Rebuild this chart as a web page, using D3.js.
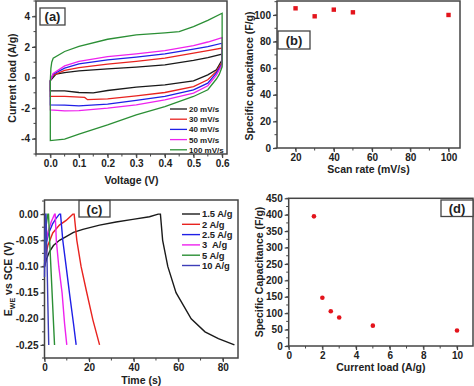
<!DOCTYPE html>
<html><head><meta charset="utf-8">
<script src="https://cdn.jsdelivr.net/npm/d3@7"></script>
<style>
body{margin:0;background:#fff;}
svg{display:block;font-family:"Liberation Sans",Arial,sans-serif;font-weight:bold;}
</style></head><body>
<svg id="c" width="474" height="386"></svg>
<script>
// ---------- DATA ----------
// (a) cyclic voltammetry: [voltage V, current A/g]
const cvLabels = ["20 mV/s","30 mV/s","40 mV/s","50 mV/s","100 mV/s"];
const cvColors = ["#1a1a1a","#e8231f","#1f1fe6","#ee22ee","#2b8f35"];
const cv20 = [[0,-0.2],[0.005,-0.1],[0.02,0.22],[0.05,0.32],[0.1,0.43],[0.2,0.57],[0.3,0.68],[0.4,0.83],[0.5,1.12],[0.55,1.3],[0.6,1.53],[0.6,1.15],[0.58,0.5],[0.55,0.17],[0.5,-0.22],[0.4,-0.48],[0.3,-0.63],[0.2,-0.85],[0.15,-1.0],[0.1,-0.98],[0.05,-0.88],[0,-0.87],[0,-0.2]];
const cv30 = [[0,-0.2],[0.01,0.15],[0.05,0.46],[0.1,0.65],[0.2,0.87],[0.3,1.05],[0.4,1.26],[0.5,1.59],[0.55,1.75],[0.6,1.92],[0.6,1.0],[0.58,0.4],[0.55,-0.15],[0.5,-0.59],[0.4,-0.98],[0.3,-1.2],[0.2,-1.4],[0.13,-1.45],[0.12,-1.3],[0.05,-1.24],[0,-1.24],[0,-0.2]];
const cv40 = [[0,-0.2],[0.01,0.22],[0.05,0.61],[0.1,0.89],[0.2,1.15],[0.3,1.33],[0.4,1.55],[0.5,1.85],[0.55,2.02],[0.6,2.24],[0.6,0.9],[0.58,0.3],[0.55,-0.37],[0.5,-0.81],[0.4,-1.24],[0.3,-1.5],[0.2,-1.74],[0.1,-1.85],[0.05,-1.81],[0,-1.79],[0,-0.2]];
const cv50 = [[0,-0.2],[0.01,0.26],[0.05,0.76],[0.1,1.05],[0.2,1.37],[0.3,1.55],[0.4,1.76],[0.5,2.09],[0.55,2.32],[0.6,2.61],[0.6,0.85],[0.58,0.15],[0.55,-0.54],[0.5,-1.02],[0.4,-1.46],[0.3,-1.79],[0.2,-2.0],[0.1,-2.16],[0.05,-2.18],[0,-2.11],[0,-0.2]];
const cv100 = [[0,-0.2],[0.002,0.6],[0.005,1.0],[0.01,1.26],[0.05,1.7],[0.1,2.03],[0.2,2.5],[0.3,2.79],[0.4,2.92],[0.45,3.0],[0.5,3.33],[0.55,3.73],[0.6,4.2],[0.6,0.7],[0.59,0.2],[0.58,-0.1],[0.55,-0.8],[0.5,-1.24],[0.4,-1.9],[0.3,-2.44],[0.2,-3.1],[0.1,-3.7],[0.05,-4.03],[0,-4.12],[0,-0.2]];
const cvTicksX = [0,0.1,0.2,0.3,0.4,0.5,0.6];
const cvTicksY = [-4,-2,0,2,4];

// (b) specific capacitance vs scan rate
const scanRates = [20,30,40,50,100];
const capScan = [105,99,104,102,100];
const scanTicksX = [20,40,60,80,100];
const scanTicksY = [0,20,40,60,80,100];

// (c) galvanostatic charge/discharge: [time s, E V]
const gcdLabels = ["1.5 A/g","2 A/g","2.5 A/g","3  A/g","5 A/g","10 A/g"];
const gcdColors = ["#1a1a1a","#e8231f","#1f1fe6","#ee22ee","#2b8f35","#3d3db8"];
const gcd15 = [[0,-0.1],[1,-0.085],[2.2,-0.072],[4,-0.06],[6.7,-0.05],[9.7,-0.043],[13,-0.035],[17.2,-0.029],[24.7,-0.021],[32.1,-0.015],[39.6,-0.01],[47.1,-0.005],[51,0],[52,0],[53,-0.05],[55.3,-0.1],[59,-0.15],[65.8,-0.2],[72,-0.225],[78,-0.238],[85.2,-0.25]];
const gcd2 = [[0,-0.09],[1.5,-0.06],[3.7,-0.036],[6.7,-0.021],[9.7,-0.012],[12.7,0],[13.3,0],[14.5,-0.05],[16.4,-0.1],[18.7,-0.145],[21.7,-0.202],[24.7,-0.25]];
const gcd25 = [[0,-0.1],[0.7,-0.056],[2,-0.035],[3.7,-0.018],[5.2,-0.008],[6.7,0],[7.2,0],[8.2,-0.05],[9.7,-0.1],[11.2,-0.151],[13,-0.209],[14.2,-0.25]];
const gcd3 = [[0,-0.1],[0.5,-0.06],[1.5,-0.035],[3,-0.015],[4.5,0],[4.8,0],[5.3,-0.05],[6.4,-0.1],[7.9,-0.151],[9,-0.209],[10,-0.25]];
const gcd5 = [[0,-0.1],[0.3,-0.05],[0.8,-0.02],[1.5,0],[1.8,0],[2.3,-0.05],[3.4,-0.15],[4.5,-0.25]];
const gcd10 = [[0,-0.12],[0.2,-0.05],[0.5,0],[0.7,0],[1.1,-0.08],[1.5,-0.17],[1.9,-0.25]];
const gcdTicksX = [0,20,40,60,80];
const gcdTicksY = [-0.25,-0.2,-0.15,-0.1,-0.05,0];

// (d) specific capacitance vs current load
const currentLoads = [1.5,2,2.5,3,5,10];
const capLoad = [395,147,106,87,62,47];
const loadTicksX = [0,2,4,6,8,10];
const loadTicksY = [0,50,100,150,200,250,300,350,400,450];

// ---------- DRAW ----------
const svg = d3.select("#c");
const AX = "#444", TXT = "#222";

function panel(o){
  const g = svg.append("g");
  const x = d3.scaleLinear().domain(o.xd).range([o.l,o.r]);
  const y = d3.scaleLinear().domain(o.yd).range([o.b,o.t]);
  const xs = Math.ceil(o.xd[0]/o.xminor - 1e-9)*o.xminor;
  const my = d3.range(Math.ceil(o.yd[0]/o.yminor - 1e-9)*o.yminor, o.yd[1]+1e-9, o.yminor);
  g.append("g").selectAll("line").data(d3.range(xs, o.xd[1]+1e-9, o.xminor)).join("line")
    .attr("x1",d=>x(d)).attr("x2",d=>x(d)).attr("y1",o.b).attr("y2",o.b+2.5)
    .attr("stroke",AX).attr("stroke-width",1);
  g.append("g").selectAll("line").data(my).join("line")
    .attr("y1",d=>y(d)).attr("y2",d=>y(d)).attr("x1",o.l).attr("x2",o.l-2.5)
    .attr("stroke",AX).attr("stroke-width",1);
  const ax = g.append("g").attr("transform",`translate(0,${o.b})`)
    .call(d3.axisBottom(x).tickValues(o.xt).tickSize(4).tickPadding(2).tickFormat(o.xf));
  const ay = g.append("g").attr("transform",`translate(${o.l},0)`)
    .call(d3.axisLeft(y).tickValues(o.yt).tickSize(4).tickPadding(2).tickFormat(o.yf));
  [ax,ay].forEach(a=>{
    a.select(".domain").remove();
    a.selectAll(".tick line").attr("stroke",AX).attr("stroke-width",1.2);
    a.selectAll("text").attr("fill",TXT).style("font-size","10px").style("font-weight","bold")
      .style("font-family","Liberation Sans, Arial, sans-serif");
  });
  g.append("rect").attr("x",o.l).attr("y",o.t).attr("width",o.r-o.l).attr("height",o.b-o.t)
    .attr("fill","none").attr("stroke",AX).attr("stroke-width",1.5);
  g.append("text").attr("x",(o.l+o.r)/2).attr("y",o.xly).attr("text-anchor","middle")
    .attr("fill",TXT).style("font-size","10.5px").text(o.xl);
  return {g,x,y};
}

// (a)
const A = panel({l:36,r:227,t:1,b:154,xd:[-0.05,0.617],yd:[-5,5],xt:cvTicksX,yt:cvTicksY,
  xminor:0.05,yminor:1,xf:d3.format(".1f"),yf:d=>String(d),xl:"Voltage (V)",xly:184});
A.g.append("text").attr("transform","translate(16,78) rotate(-90)").attr("text-anchor","middle")
  .attr("fill",TXT).style("font-size","10.5px").text("Current load (A/g)");
const lineA = d3.line().x(d=>A.x(d[0])).y(d=>A.y(d[1]));
[cv20,cv30,cv40,cv50,cv100].forEach((s,i)=>{
  A.g.append("path").attr("d",lineA(s)).attr("fill","none").attr("stroke",cvColors[i]).attr("stroke-width",1.3);
});
cvLabels.forEach((t,i)=>{
  const yy = 109 + i*10.2;
  A.g.append("line").attr("x1",170).attr("x2",187).attr("y1",yy).attr("y2",yy).attr("stroke",cvColors[i]).attr("stroke-width",1.3);
  A.g.append("text").attr("x",189).attr("y",yy+3).attr("fill",TXT).style("font-size","8px").text(t);
});
A.g.append("rect").attr("x",40).attr("y",8).attr("width",25).attr("height",17).attr("fill","#fff").attr("stroke",AX).attr("stroke-width",1.3);
A.g.append("text").attr("x",52.5).attr("y",21).attr("text-anchor","middle").attr("fill",TXT).style("font-size","13px").text("(a)");

// (b)
const B = panel({l:277,r:460,t:1,b:148,xd:[10.3,106],yd:[0,110.5],xt:scanTicksX,yt:scanTicksY,
  xminor:10,yminor:10,xf:d=>String(d),yf:d=>String(d),xl:"Scan rate (mV/s)",xly:173});
B.g.append("text").attr("transform","translate(253,76) rotate(-90)").attr("text-anchor","middle")
  .attr("fill",TXT).style("font-size","10.5px").text("Specific capacitance (F/g)");
B.g.selectAll("rect.pt").data(scanRates).join("rect").attr("class","pt")
  .attr("x",(d)=>B.x(d)-2.2).attr("y",(d,i)=>B.y(capScan[i])-2.2).attr("width",4.4).attr("height",4.4)
  .attr("fill","#e3141c");
B.g.append("rect").attr("x",278).attr("y",31).attr("width",32).attr("height",18).attr("fill","#fff").attr("stroke",AX).attr("stroke-width",1.3);
B.g.append("text").attr("x",294).attr("y",45).attr("text-anchor","middle").attr("fill",TXT).style("font-size","13px").text("(b)");

// (c)
const C = panel({l:44.5,r:238,t:200,b:358,xd:[0,86.8],yd:[-0.275,0.027],xt:gcdTicksX,yt:gcdTicksY,
  xminor:10,yminor:0.025,xf:d=>String(d),yf:d=>d3.format(".2f")(d).replace("\u2212","-"),xl:"Time (s)",xly:384});
const yl = C.g.append("text").attr("transform","translate(12,279) rotate(-90)").attr("text-anchor","middle")
  .attr("fill",TXT).style("font-size","10.5px");
yl.append("tspan").text("E");
yl.append("tspan").attr("dy",3).style("font-size","7px").text("WE");
yl.append("tspan").attr("dy",-3).text(" vs SCE (V)");
const lineC = d3.line().x(d=>C.x(d[0])).y(d=>C.y(d[1]));
[gcd15,gcd2,gcd25,gcd3,gcd5,gcd10].forEach((s,i)=>{
  C.g.append("path").attr("d",lineC(s)).attr("fill","none").attr("stroke",gcdColors[i]).attr("stroke-width",1.4);
});
gcdLabels.forEach((t,i)=>{
  const yy = 214 + i*10.3;
  C.g.append("line").attr("x1",182).attr("x2",200).attr("y1",yy).attr("y2",yy).attr("stroke",gcdColors[i]).attr("stroke-width",1.4);
  C.g.append("text").attr("x",202).attr("y",yy+3.3).attr("fill",TXT).style("font-size","9.4px").attr("xml:space","preserve").style("white-space","pre").text(t);
});
C.g.append("rect").attr("x",79).attr("y",200.5).attr("width",31).attr("height",16.5).attr("fill","#fff").attr("stroke",AX).attr("stroke-width",1.3);
C.g.append("text").attr("x",94.5).attr("y",213.5).attr("text-anchor","middle").attr("fill",TXT).style("font-size","13px").text("(c)");

// (d)
const D = panel({l:288.7,r:473,t:198.3,b:346,xd:[0,10.95],yd:[0,450],xt:loadTicksX,yt:loadTicksY,
  xminor:1,yminor:25,xf:d=>String(d),yf:d=>String(d),xl:"Current load (A/g)",xly:371});
D.g.append("text").attr("transform","translate(263,272) rotate(-90)").attr("text-anchor","middle")
  .attr("fill",TXT).style("font-size","10.5px").text("Specific Capacitance (F/g)");
D.g.selectAll("circle").data(currentLoads).join("circle")
  .attr("cx",d=>D.x(d)).attr("cy",(d,i)=>D.y(capLoad[i])).attr("r",2.3).attr("fill","#e3141c");
D.g.append("rect").attr("x",441).attr("y",200).attr("width",32).attr("height",16.5).attr("fill","#fff").attr("stroke",AX).attr("stroke-width",1.3);
D.g.append("text").attr("x",457).attr("y",213).attr("text-anchor","middle").attr("fill",TXT).style("font-size","13px").text("(d)");
</script></body></html>
